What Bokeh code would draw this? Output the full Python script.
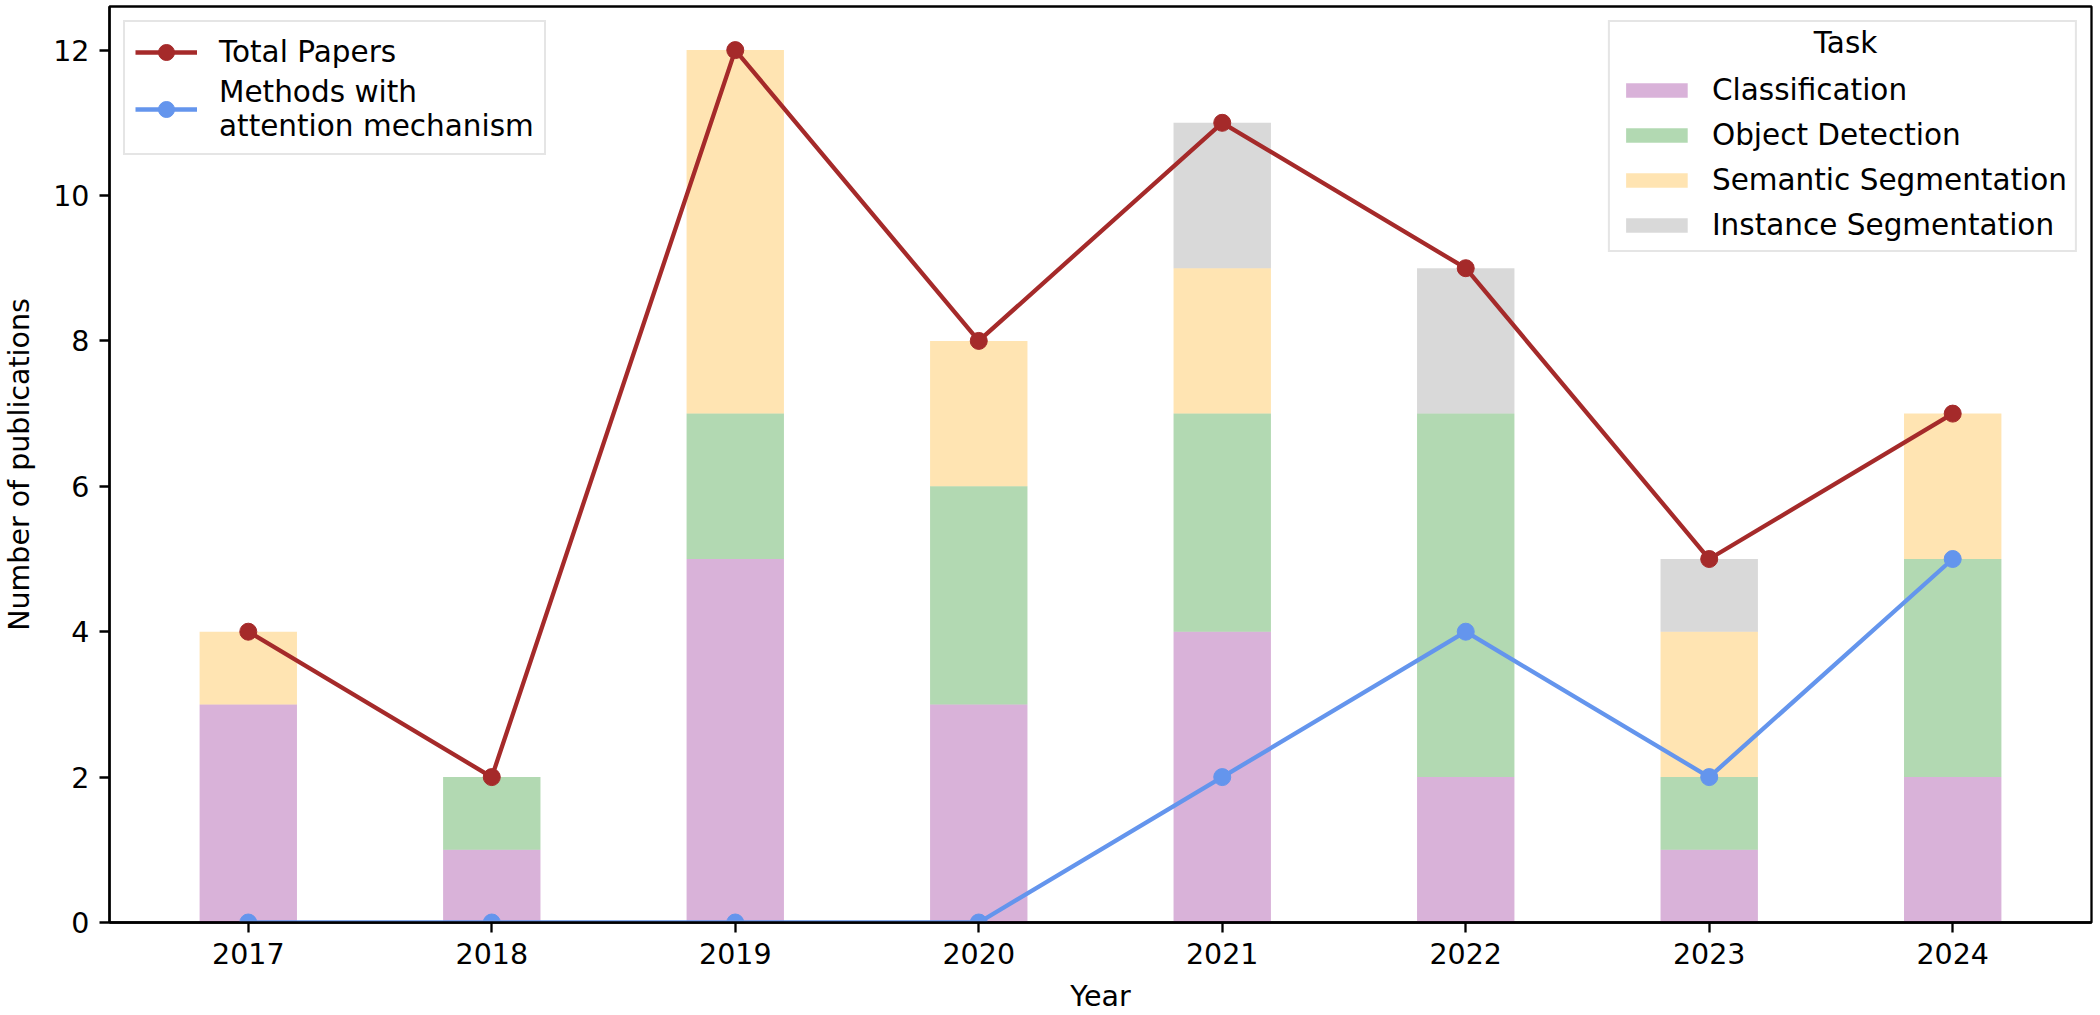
import numpy as np
from bokeh.plotting import figure
from bokeh.models import Range1d, FixedTicker, Legend, LegendItem, ColumnDataSource, Label
from bokeh.embed import file_html
from bokeh.resources import INLINE

# ---- data ----
years = [2017, 2018, 2019, 2020, 2021, 2022, 2023, 2024]
classification = [3, 1, 5, 3, 4, 2, 1, 2]
object_detection = [0, 1, 2, 3, 3, 5, 1, 3]
semantic_segmentation = [1, 0, 5, 2, 2, 0, 2, 2]
instance_segmentation = [0, 0, 0, 0, 2, 2, 1, 0]
total_papers = [4, 2, 12, 8, 11, 9, 5, 7]
attention_methods = [0, 0, 0, 0, 2, 4, 2, 5]
task_names = ["Classification", "Object Detection", "Semantic Segmentation", "Instance Segmentation"]
task_colors = ["purple", "green", "orange", "gray"]
y_ticks = [0, 2, 4, 6, 8, 10, 12]

FONT = "DejaVu Sans"
FS = "28.5px"
LFS = "29.5px"

p = figure(width=2100, height=1015, output_backend="svg", toolbar_location=None,
           x_range=Range1d(2016.43, 2024.57), y_range=Range1d(0, 12.6),
           min_border_left=107, min_border_right=9, min_border_top=6, min_border_bottom=91)

src = ColumnDataSource(dict(year=years, c0=classification, c1=object_detection,
                            c2=semantic_segmentation, c3=instance_segmentation))
bars = p.vbar_stack(["c0", "c1", "c2", "c3"], x="year", width=0.4, source=src,
                    fill_color=task_colors, fill_alpha=0.3, line_color=None)

l1 = p.line(years, total_papers, line_color="brown", line_width=4.3)
s1 = p.scatter(years, total_papers, size=17, fill_color="brown", line_color="brown")
l2 = p.line(years, attention_methods, line_color="cornflowerblue", line_width=4.3)
s2 = p.scatter(years, attention_methods, size=17, fill_color="cornflowerblue", line_color="cornflowerblue")

p.grid.visible = False
p.outline_line_color = "black"
p.outline_line_width = 2.3
p.outline_line_alpha = 1

p.xaxis.ticker = FixedTicker(ticks=years)
p.yaxis.ticker = FixedTicker(ticks=y_ticks)
p.xaxis.axis_label = "Year"
p.yaxis.axis_label = "Number of publications"
for ax in (p.xaxis, p.yaxis):
    ax.axis_line_width = 2.3
    ax.major_tick_line_width = 2.3
    ax.major_tick_out = 10
    ax.major_tick_in = 0
    ax.minor_tick_line_color = None
    ax.major_label_text_font = FONT
    ax.major_label_text_font_size = FS
    ax.major_label_text_color = "black"
    ax.axis_label_text_font = FONT
    ax.axis_label_text_font_size = FS
    ax.axis_label_text_font_style = "normal"
    ax.axis_label_text_color = "black"
    ax.major_label_standoff = 10
p.xaxis.axis_label_standoff = 13
p.yaxis.axis_label_standoff = 14

def style_legend(leg):
    leg.label_text_font = FONT
    leg.label_text_font_size = LFS
    leg.label_text_color = "black"
    leg.margin = 14
    leg.border_line_color = "#cccccc"
    leg.border_line_width = 2
    leg.background_fill_alpha = 0.8

leg1 = Legend(items=[LegendItem(label="Total Papers", renderers=[l1, s1]),
                     LegendItem(label="Methods with\nattention mechanism", renderers=[l2, s2])],
              location="top_left")
style_legend(leg1)
leg1.glyph_width = 62
leg1.glyph_height = 40
leg1.label_standoff = 22
leg1.padding = 10
leg1.spacing = 3
leg1.label_text_line_height = 1.35
p.add_layout(leg1)

# title space reserved by a blank title; the centred title is drawn as a label
leg2 = Legend(items=[LegendItem(label=n, renderers=[r]) for n, r in zip(task_names, bars)],
              location="top_right", title=" ")
style_legend(leg2)
leg2.background_fill_color = None
leg2.glyph_width = 77
leg2.glyph_height = 18
leg2.label_standoff = 17
leg2.padding = 8
leg2.spacing = 11
leg2.title_text_font = FONT
leg2.title_text_font_size = LFS
leg2.title_text_font_style = "normal"
leg2.title_standoff = 9
p.add_layout(leg2)

task_title = Label(x=1736, y=880, x_units="screen", y_units="screen", text="Task",
                   text_font=FONT, text_font_size=LFS, text_color="black",
                   text_align="center", text_baseline="middle", level="overlay")
p.add_layout(task_title)

open("out.html", "w").write(file_html(p, INLINE))
